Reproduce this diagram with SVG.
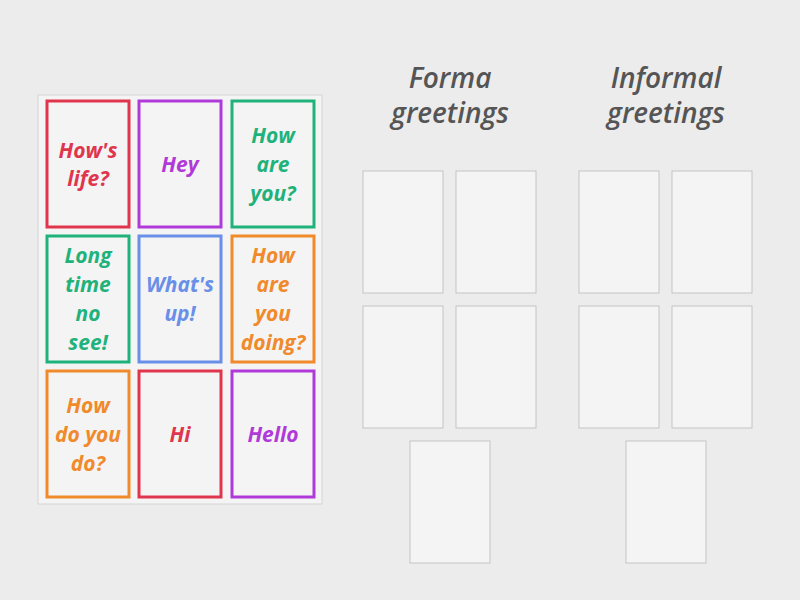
<svg xmlns="http://www.w3.org/2000/svg" width="800" height="600" viewBox="0 0 800 600">
<style>
.card{fill:#f4f4f5;stroke-width:3}
.t{font-family:"Open Sans","DejaVu Sans",sans-serif;font-weight:bold;font-style:italic;font-size:21px;text-anchor:middle}
.slot{fill:#f4f4f4;stroke:#c4c4c4;stroke-width:1}
.h{font-family:"Open Sans","DejaVu Sans",sans-serif;font-style:italic;font-weight:600;font-size:28px;fill:#555;text-anchor:middle}
.r{stroke:#e0364d;fill:#e0364d}.p{stroke:#b03ad8;fill:#b03ad8}.g{stroke:#1fb27a;fill:#1fb27a}.b{stroke:#6a8fe8;fill:#6a8fe8}.o{stroke:#f08a2a;fill:#f08a2a}
</style>
<rect width="800" height="600" fill="#ececec"/>
<rect x="38" y="95" width="284" height="409" fill="#f4f4f5" stroke="#d4d4d4"/>
<g id="c1" class="r"><rect class="card" x="47" y="101" width="82" height="126" style="fill:#f4f4f5"/><text class="t" stroke="none" x="88" y="158">How's</text><text class="t" stroke="none" x="88" y="186">life?</text></g>
<g id="c2" class="p"><rect class="card" x="139" y="101" width="82" height="126" style="fill:#f4f4f5"/><text class="t" stroke="none" x="180" y="172">Hey</text></g>
<g id="c3" class="g"><rect class="card" x="232" y="101" width="82" height="126" style="fill:#f4f4f5"/><text class="t" stroke="none" x="273" y="143">How</text><text class="t" stroke="none" x="273" y="172">are</text><text class="t" stroke="none" x="273" y="201">you?</text></g>
<g id="c4" class="g"><rect class="card" x="47" y="236" width="82" height="126" style="fill:#f4f4f5"/><text class="t" stroke="none" x="88" y="263">Long</text><text class="t" stroke="none" x="88" y="292">time</text><text class="t" stroke="none" x="88" y="321">no</text><text class="t" stroke="none" x="88" y="350">see!</text></g>
<g id="c5" class="b"><rect class="card" x="139" y="236" width="82" height="126" style="fill:#f4f4f5"/><text class="t" stroke="none" x="180" y="292">What's</text><text class="t" stroke="none" x="180" y="321">up!</text></g>
<g id="c6" class="o"><rect class="card" x="232" y="236" width="82" height="126" style="fill:#f4f4f5"/><text class="t" stroke="none" x="273" y="263">How</text><text class="t" stroke="none" x="273" y="292">are</text><text class="t" stroke="none" x="273" y="321">you</text><text class="t" stroke="none" x="273" y="350">doing?</text></g>
<g id="c7" class="o"><rect class="card" x="47" y="371" width="82" height="126" style="fill:#f4f4f5"/><text class="t" stroke="none" x="88" y="413">How</text><text class="t" stroke="none" x="88" y="442">do you</text><text class="t" stroke="none" x="88" y="471">do?</text></g>
<g id="c8" class="r"><rect class="card" x="139" y="371" width="82" height="126" style="fill:#f4f4f5"/><text class="t" stroke="none" x="180" y="442">Hi</text></g>
<g id="c9" class="p"><rect class="card" x="232" y="371" width="82" height="126" style="fill:#f4f4f5"/><text class="t" stroke="none" x="273" y="442">Hello</text></g>
<g id="formal"><text class="h" x="450" y="88">Forma</text><text class="h" x="450" y="123">greetings</text>
<rect class="slot" x="363" y="171" width="80" height="122"/><rect class="slot" x="456" y="171" width="80" height="122"/>
<rect class="slot" x="363" y="306" width="80" height="122"/><rect class="slot" x="456" y="306" width="80" height="122"/>
<rect class="slot" x="410" y="441" width="80" height="122"/></g>
<g id="informal"><text class="h" x="666" y="88">Informal</text><text class="h" x="666" y="123">greetings</text>
<rect class="slot" x="579" y="171" width="80" height="122"/><rect class="slot" x="672" y="171" width="80" height="122"/>
<rect class="slot" x="579" y="306" width="80" height="122"/><rect class="slot" x="672" y="306" width="80" height="122"/>
<rect class="slot" x="626" y="441" width="80" height="122"/></g>
<g id="connectors"/>
</svg>
